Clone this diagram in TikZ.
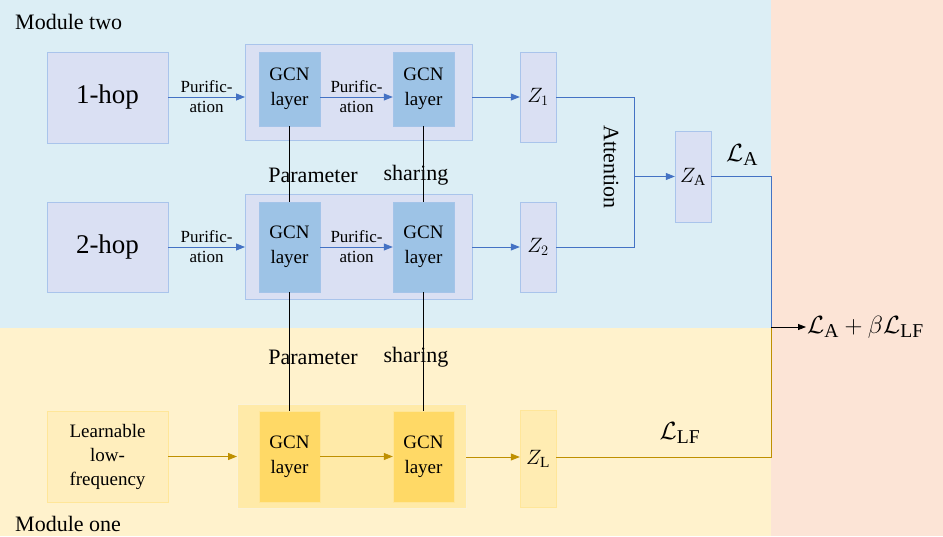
\documentclass[tikz,border=0pt]{standalone}
\usepackage{amsmath}
\usepackage{fontspec}
\setmainfont{Liberation Serif}
\usetikzlibrary{arrows.meta}
\definecolor{bgblue}{HTML}{DCEEF5}
\definecolor{bgyellow}{HTML}{FFF2CC}
\definecolor{bgpeach}{HTML}{FCE4D6}
\definecolor{lav}{HTML}{DAE0F3}
\definecolor{lavline}{HTML}{A9C4EB}
\definecolor{gcnblue}{HTML}{9DC3E6}
\definecolor{gcnyellow}{HTML}{FFD966}
\definecolor{contyellow}{HTML}{FFE699}
\definecolor{lnblue}{HTML}{4472C4}
\definecolor{lnorange}{HTML}{BF9000}
\tikzset{
  box/.style={draw=lavline, fill=lav, inner sep=0pt},
  gcn/.style={draw=lavline!60!gcnblue, fill=gcnblue, inner sep=0pt, align=center, font=\fontsize{19}{25}\selectfont},
  gcny/.style={draw=contyellow, fill=gcnyellow, inner sep=0pt, align=center, font=\fontsize{19}{25}\selectfont},
  zbox/.style={font=\fontsize{22}{26}\selectfont},
  big/.style={font=\fontsize{22}{26}\selectfont},
  barrow/.style={draw=lnblue, line width=0.8pt, -{Triangle[length=9pt,width=7pt]}},
  oarrow/.style={draw=lnorange, line width=0.8pt, -{Triangle[length=9pt,width=7pt]}},
  small/.style={font=\fontsize{17}{20}\selectfont, align=center}
}
\begin{document}
\begin{tikzpicture}[x=1pt,y=-1pt]
\useasboundingbox (0,0) rectangle (943,536);
% backgrounds
\fill[bgblue] (0,0) rectangle (771,328);
\fill[bgyellow] (0,328) rectangle (771,536);
\fill[bgpeach] (771,0) rectangle (943,536);
\node[anchor=west, big, inner sep=0pt] (m2) at (15,22) {Module two};
\node[anchor=west, big, inner sep=0pt] (m1) at (15,524) {Module one};
% containers
\draw[box] (245,44) rectangle (472,140);
\draw[box] (245,194) rectangle (472,299);
\draw[draw=contyellow!80!lnorange!30, fill=contyellow!70!bgyellow] (237,404) rectangle (466,508);
% inputs
\node[box, minimum width=121pt, minimum height=91pt, font=\fontsize{27}{30}\selectfont] (h1) at (107.5,97.5) {1-hop};
\node[box, minimum width=121pt, minimum height=90pt, font=\fontsize{27}{30}\selectfont] (h2) at (107.5,247) {2-hop};
\node[draw=contyellow, fill=bgyellow!70!contyellow, minimum width=121pt, minimum height=91pt, align=center, inner sep=0pt, font=\fontsize{19}{24}\selectfont] (lf) at (107.5,456.5) {Learnable\\low-\\frequency};
% GCN layers
\node[gcn, minimum width=61pt, minimum height=74pt] (g11) at (289.5,89) {GCN\\layer};
\node[gcn, minimum width=61pt, minimum height=74pt] (g12) at (423.5,89) {GCN\\layer};
\node[gcn, minimum width=61pt, minimum height=90pt] (g21) at (289.5,247) {GCN\\layer};
\node[gcn, minimum width=61pt, minimum height=90pt] (g22) at (423.5,247) {GCN\\layer};
\node[gcny, minimum width=61pt, minimum height=91pt] (g31) at (289.5,456.5) {GCN\\layer};
\node[gcny, minimum width=61pt, minimum height=91pt] (g32) at (423.5,456.5) {GCN\\layer};
% Z boxes
\node[box, zbox, minimum width=36pt, minimum height=90pt] (z1) at (538,97) {$Z_1$};
\node[box, zbox, minimum width=36pt, minimum height=90pt] (z2) at (538,247) {$Z_2$};
\node[draw=contyellow, fill=bgyellow!50!contyellow, zbox, inner sep=0pt, minimum width=36pt, minimum height=97pt] (zl) at (538,459) {$Z_{\mathrm{L}}$};
\node[box, zbox, minimum width=36pt, minimum height=91pt] (za) at (693,176.5) {$Z_{\mathrm{A}}$};
% parameter sharing lines
\draw[black] (g11.south) -- (g21.north);
\draw[black] (g12.south) -- (g22.north);
\draw[black] (g21.south) -- (g31.north);
\draw[black] (g22.south) -- (g32.north);
\foreach \y/\n in {175/a,357/b}{
  \node[inner sep=0pt, big] (p\n) at (313,\y) {Parameter};
  \node[inner sep=0pt, big] (s\n) at (416,\y) {sharing};
}
% purification arrows
\draw[barrow] (h1.east |- 0,97) -- (245,97) node[midway, small] {Purific-\\ation};
\draw[barrow] (g11.east |- 0,97) -- (g12.west |- 0,97) node[midway, small] {Purific-\\ation};
\draw[barrow] (h2.east) -- (245,247) node[midway, small] {Purific-\\ation};
\draw[barrow] (g21.east) -- (g22.west) node[midway, small] {Purific-\\ation};
\draw[oarrow] (lf.east) -- (237,456.5);
\draw[oarrow] (g31.east) -- (g32.west);
% outputs to Z
\draw[barrow] (472,97) -- (z1.west);
\draw[barrow] (472,247) -- (z2.west);
\draw[oarrow] (466,457) -- (zl.west |- 0,457);
% attention
\coordinate (att) at (634,176.5);
\draw[draw=lnblue, line width=0.8pt] (z1.east) -| (att) (z2.east) -| (att);
\draw[barrow] (att) -- (za.west);
\node[rotate=-90, big] (attl) at (611,167) {Attention};
% loss lines
\coordinate (join) at (771,327);
\draw[draw=lnblue, line width=0.8pt] (za.east) -| (join);
\draw[draw=lnorange, line width=0.8pt] (zl.east |- 0,457) -| (join);
\node[font=\fontsize{28}{30}\selectfont] (la) at (742,155) {$\mathcal{L}_{\mathrm{A}}$};
\node[font=\fontsize{28}{30}\selectfont] (llf) at (680,433) {$\mathcal{L}_{\mathrm{LF}}$};
\node[anchor=west, inner sep=1pt, font=\fontsize{28}{30}\selectfont] (tot) at (806,327) {$\mathcal{L}_{\mathrm{A}}+\beta\mathcal{L}_{\mathrm{LF}}$};
\draw[line width=0.8pt, -{Triangle[length=8pt,width=6pt]}] (join) -- (tot.west);
\end{tikzpicture}
\end{document}
